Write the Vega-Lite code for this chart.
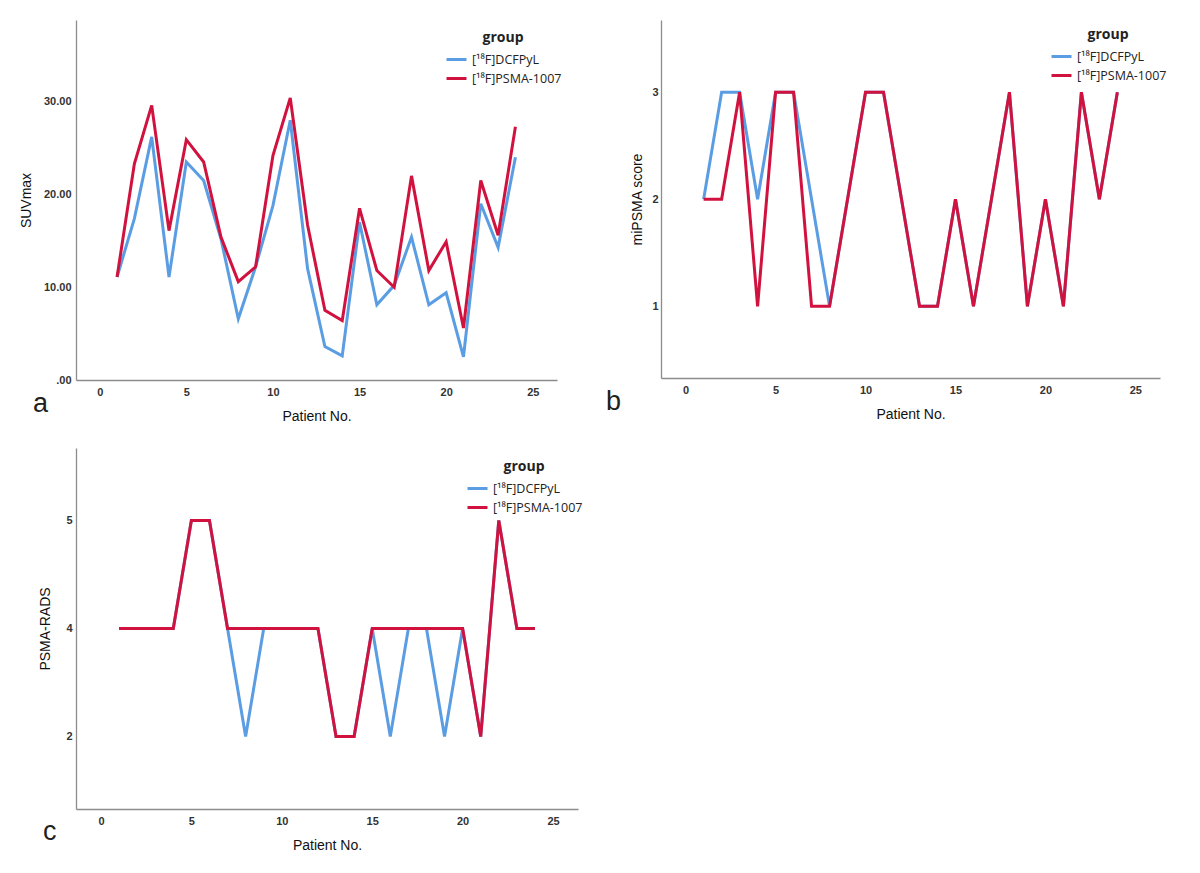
{
  "$schema": "https://vega.github.io/schema/vega-lite/v6.json",
  "description": "SUVmax, miPSMA score and PSMA-RADS per patient for two tracers",
  "padding": {"left": 19, "top": 20, "right": 0, "bottom": 0},
  "background": "white",
  "datasets": {
    "patients": [
      {"patient": 1, "group": "[¹⁸F]DCFPyL", "suv": 11.1, "mi": 2, "rads": 4},
      {"patient": 2, "group": "[¹⁸F]DCFPyL", "suv": 17.4, "mi": 3, "rads": 4},
      {"patient": 3, "group": "[¹⁸F]DCFPyL", "suv": 26.2, "mi": 3, "rads": 4},
      {"patient": 4, "group": "[¹⁸F]DCFPyL", "suv": 11.1, "mi": 2, "rads": 4},
      {"patient": 5, "group": "[¹⁸F]DCFPyL", "suv": 23.5, "mi": 3, "rads": 5},
      {"patient": 6, "group": "[¹⁸F]DCFPyL", "suv": 21.5, "mi": 3, "rads": 5},
      {"patient": 7, "group": "[¹⁸F]DCFPyL", "suv": 15.2, "mi": 2, "rads": 4},
      {"patient": 8, "group": "[¹⁸F]DCFPyL", "suv": 6.6, "mi": 1, "rads": 2},
      {"patient": 9, "group": "[¹⁸F]DCFPyL", "suv": 12.2, "mi": 2, "rads": 4},
      {"patient": 10, "group": "[¹⁸F]DCFPyL", "suv": 18.8, "mi": 3, "rads": 4},
      {"patient": 11, "group": "[¹⁸F]DCFPyL", "suv": 28.0, "mi": 3, "rads": 4},
      {"patient": 12, "group": "[¹⁸F]DCFPyL", "suv": 12.0, "mi": 2, "rads": 4},
      {"patient": 13, "group": "[¹⁸F]DCFPyL", "suv": 3.6, "mi": 1, "rads": 2},
      {"patient": 14, "group": "[¹⁸F]DCFPyL", "suv": 2.6, "mi": 1, "rads": 2},
      {"patient": 15, "group": "[¹⁸F]DCFPyL", "suv": 17.0, "mi": 2, "rads": 4},
      {"patient": 16, "group": "[¹⁸F]DCFPyL", "suv": 8.1, "mi": 1, "rads": 2},
      {"patient": 17, "group": "[¹⁸F]DCFPyL", "suv": 10.2, "mi": 2, "rads": 4},
      {"patient": 18, "group": "[¹⁸F]DCFPyL", "suv": 15.4, "mi": 3, "rads": 4},
      {"patient": 19, "group": "[¹⁸F]DCFPyL", "suv": 8.1, "mi": 1, "rads": 2},
      {"patient": 20, "group": "[¹⁸F]DCFPyL", "suv": 9.4, "mi": 2, "rads": 4},
      {"patient": 21, "group": "[¹⁸F]DCFPyL", "suv": 2.5, "mi": 1, "rads": 2},
      {"patient": 22, "group": "[¹⁸F]DCFPyL", "suv": 19.0, "mi": 3, "rads": 5},
      {"patient": 23, "group": "[¹⁸F]DCFPyL", "suv": 14.3, "mi": 2, "rads": 4},
      {"patient": 24, "group": "[¹⁸F]DCFPyL", "suv": 24.0, "mi": 3, "rads": 4},
      {"patient": 1, "group": "[¹⁸F]PSMA-1007", "suv": 11.1, "mi": 2, "rads": 4},
      {"patient": 2, "group": "[¹⁸F]PSMA-1007", "suv": 23.3, "mi": 2, "rads": 4},
      {"patient": 3, "group": "[¹⁸F]PSMA-1007", "suv": 29.6, "mi": 3, "rads": 4},
      {"patient": 4, "group": "[¹⁸F]PSMA-1007", "suv": 16.1, "mi": 1, "rads": 4},
      {"patient": 5, "group": "[¹⁸F]PSMA-1007", "suv": 25.9, "mi": 3, "rads": 5},
      {"patient": 6, "group": "[¹⁸F]PSMA-1007", "suv": 23.5, "mi": 3, "rads": 5},
      {"patient": 7, "group": "[¹⁸F]PSMA-1007", "suv": 15.4, "mi": 1, "rads": 4},
      {"patient": 8, "group": "[¹⁸F]PSMA-1007", "suv": 10.6, "mi": 1, "rads": 4},
      {"patient": 9, "group": "[¹⁸F]PSMA-1007", "suv": 12.2, "mi": 2, "rads": 4},
      {"patient": 10, "group": "[¹⁸F]PSMA-1007", "suv": 24.2, "mi": 3, "rads": 4},
      {"patient": 11, "group": "[¹⁸F]PSMA-1007", "suv": 30.4, "mi": 3, "rads": 4},
      {"patient": 12, "group": "[¹⁸F]PSMA-1007", "suv": 16.7, "mi": 2, "rads": 4},
      {"patient": 13, "group": "[¹⁸F]PSMA-1007", "suv": 7.5, "mi": 1, "rads": 2},
      {"patient": 14, "group": "[¹⁸F]PSMA-1007", "suv": 6.4, "mi": 1, "rads": 2},
      {"patient": 15, "group": "[¹⁸F]PSMA-1007", "suv": 18.5, "mi": 2, "rads": 4},
      {"patient": 16, "group": "[¹⁸F]PSMA-1007", "suv": 11.8, "mi": 1, "rads": 4},
      {"patient": 17, "group": "[¹⁸F]PSMA-1007", "suv": 10.0, "mi": 2, "rads": 4},
      {"patient": 18, "group": "[¹⁸F]PSMA-1007", "suv": 22.0, "mi": 3, "rads": 4},
      {"patient": 19, "group": "[¹⁸F]PSMA-1007", "suv": 11.8, "mi": 1, "rads": 4},
      {"patient": 20, "group": "[¹⁸F]PSMA-1007", "suv": 14.9, "mi": 2, "rads": 4},
      {"patient": 21, "group": "[¹⁸F]PSMA-1007", "suv": 5.6, "mi": 1, "rads": 2},
      {"patient": 22, "group": "[¹⁸F]PSMA-1007", "suv": 21.5, "mi": 3, "rads": 5},
      {"patient": 23, "group": "[¹⁸F]PSMA-1007", "suv": 15.6, "mi": 2, "rads": 4},
      {"patient": 24, "group": "[¹⁸F]PSMA-1007", "suv": 27.3, "mi": 3, "rads": 4}
    ]
  },
  "columns": 2,
  "bounds": "flush",
  "align": "none",
  "spacing": {"row": 68, "column": 83},
  "concat": [
    {
      "width": 481,
      "height": 360,
      "data": {"name": "patients"},
      "title": {"text": "a", "orient": "bottom", "anchor": "start", "frame": "group", "dx": -43, "dy": -36},
      "mark": {"type": "line", "strokeWidth": 3, "strokeJoin": "miter"},
      "encoding": {
        "x": {"field": "patient", "type": "quantitative", "title": "Patient No.",
              "scale": {"domain": [-1.37, 26.4], "nice": false, "zero": false},
              "axis": {"values": [0, 5, 10, 15, 20, 25]}},
        "y": {"field": "suv", "type": "quantitative", "title": "SUVmax",
              "scale": {"domain": [0, 38.8], "nice": false},
              "axis": {"values": [0, 10, 20, 30], "labelPadding": 5, "titlePadding": 10,
                       "labelExpr": "datum.value == 0 ? '.00' : format(datum.value, '.2f')"}},
        "color": {"field": "group", "type": "nominal", "title": "group",
                  "legend": {"orient": "none", "legendX": 369, "legendY": 11}}
      }
    },
    {
      "width": 499,
      "height": 358,
      "data": {"name": "patients"},
      "title": {"text": "b", "orient": "bottom", "anchor": "start", "frame": "group", "dx": -55, "dy": -36},
      "mark": {"type": "line", "strokeWidth": 3, "strokeJoin": "miter"},
      "encoding": {
        "x": {"field": "patient", "type": "quantitative", "title": "Patient No.",
              "scale": {"domain": [-1.37, 26.37], "nice": false, "zero": false},
              "axis": {"values": [0, 5, 10, 15, 20, 25]}},
        "y": {"field": "mi", "type": "quantitative", "title": "miPSMA score",
              "scale": {"domain": [0.33, 3.675], "nice": false, "zero": false},
              "axis": {"values": [1, 2, 3], "labelPadding": 3, "titlePadding": 7}},
        "color": {"field": "group", "type": "nominal", "title": "group",
                  "legend": {"orient": "none", "legendX": 389, "legendY": 8}}
      }
    },
    {
      "width": 502,
      "height": 361,
      "data": {"name": "patients"},
      "title": {"text": "c", "orient": "bottom", "anchor": "start", "frame": "group", "dx": -33, "dy": -37},
      "mark": {"type": "line", "strokeWidth": 3, "strokeJoin": "miter"},
      "encoding": {
        "x": {"field": "patient", "type": "quantitative", "title": "Patient No.",
              "scale": {"domain": [-1.38, 26.38], "nice": false, "zero": false},
              "axis": {"values": [0, 5, 10, 15, 20, 25]}},
        "y": {"field": "rads", "type": "ordinal", "title": "PSMA-RADS",
              "scale": {"type": "point", "domain": [5, 4, 2], "padding": 0.67},
              "axis": {"labelAngle": 0, "labelPadding": 4, "titlePadding": 13}},
        "order": {"field": "patient", "type": "quantitative"},
        "color": {"field": "group", "type": "nominal", "title": "group",
                  "legend": {"orient": "none", "legendX": 390, "legendY": 12}}
      }
    }
  ],
  "resolve": {"scale": {"color": "independent"}, "legend": {"color": "independent"}},
  "config": {
    "font": "Liberation Sans",
    "view": {"stroke": null},
    "range": {"category": ["#5b9de3", "#d1123f"]},
    "title": {"fontSize": 27, "fontWeight": "normal", "color": "#231f20", "font": "Liberation Sans"},
    "axis": {
      "grid": false,
      "ticks": false,
      "domainColor": "#8c8c8c",
      "domainWidth": 1.3,
      "labelFont": "Liberation Sans",
      "labelFontWeight": "bold",
      "labelFontSize": 11,
      "labelColor": "#333333",
      "titleFont": "Liberation Sans",
      "titleFontWeight": "normal",
      "titleFontSize": 14,
      "titleColor": "#111111"
    },
    "axisX": {"labelPadding": 6, "titlePadding": 12},
    "legend": {
      "titleFont": "Open Sans",
      "titleFontSize": 14,
      "titleFontWeight": "bold",
      "titleColor": "#222222",
      "titleAnchor": "middle",
      "titlePadding": 3,
      "labelFont": "Open Sans",
      "labelFontSize": 12.5,
      "labelColor": "#222222",
      "symbolType": "stroke",
      "symbolSize": 400,
      "symbolStrokeWidth": 3,
      "rowPadding": 1
    }
  }
}
